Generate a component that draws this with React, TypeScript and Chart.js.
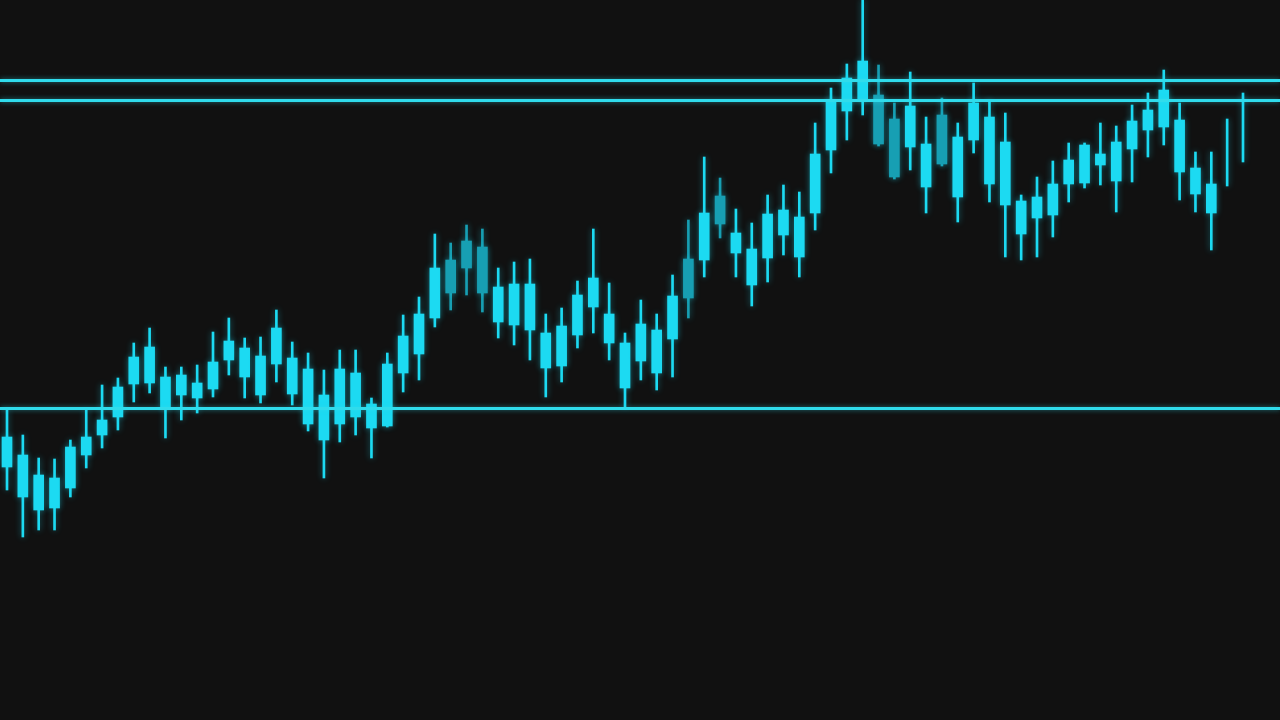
import React, { useEffect, useRef } from "react";
import { Chart, registerables } from "chart.js";

Chart.register(...registerables);

// Candle values (price units)
const highs = [310, 285, 262, 261, 280, 310, 335, 342, 377, 392, 353, 353, 355, 388, 402, 382, 383, 410, 378, 367, 350, 370, 370, 322, 367, 405, 423, 486, 477, 495, 491, 452, 458, 461, 406, 412, 439, 491, 437, 387, 420, 406, 445, 500, 563, 542, 511, 497, 525, 535, 528, 597, 632, 656, 720, 655, 617, 648, 603, 622, 597, 637, 620, 607, 525, 543, 559, 577, 577, 597, 594, 615, 627, 650, 617, 568, 568, 601, 627];
const bodyTops = [283, 265, 245, 242, 273, 283, 300, 333, 363, 373, 343, 345, 337, 358, 379, 372, 364, 392, 362, 351, 325, 351, 347, 316, 356, 384, 406, 452, 460, 479, 473, 433, 436, 436, 387, 394, 425, 442, 406, 377, 396, 390, 424, 461, 507, 524, 487, 471, 506, 510, 503, 566, 619, 642, 659, 625, 601, 614, 576, 605, 583, 617, 603, 578, 519, 523, 536, 560, 575, 566, 578, 599, 610, 630, 600, 552, 536, null, null];
const bodyBottoms = [253, 223, 210, 212, 232, 265, 285, 303, 336, 337, 313, 325, 322, 331, 360, 343, 325, 356, 326, 296, 280, 296, 303, 292, 294, 347, 366, 402, 427, 452, 427, 398, 395, 390, 352, 354, 385, 413, 377, 332, 359, 347, 381, 422, 460, 496, 467, 435, 462, 485, 463, 507, 570, 609, 620, 576, 543, 573, 533, 556, 523, 580, 536, 515, 486, 502, 505, 536, 537, 555, 539, 571, 590, 593, 548, 526, 507, null, null];
const lows = [230, 183, 190, 190, 223, 252, 272, 290, 318, 327, 282, 300, 307, 323, 345, 322, 317, 338, 315, 289, 242, 278, 285, 262, 293, 328, 340, 393, 410, 425, 408, 382, 375, 360, 323, 338, 372, 387, 360, 313, 340, 330, 343, 402, 443, 482, 443, 414, 438, 465, 443, 490, 547, 580, 605, 574, 541, 550, 507, 554, 498, 567, 518, 463, 460, 463, 483, 518, 532, 535, 508, 538, 563, 575, 520, 508, 470, 534, 558];
// candles drawn in the dimmer teal shade (1-based positions)
const dimCandles = [29, 30, 31, 44, 46, 56, 57, 60];
// horizontal support / resistance levels
const levels = [640, 620, 312];
const categories = highs.map((_, i) => String(i + 1));

const BRIGHT = "#1cdaf2";
const DIM = "#179fb3";
const LINE = "#30dcec";
const BG = "#111111";

export default function App() {
  const ref = useRef<HTMLCanvasElement | null>(null);

  useEffect(() => {
    const canvas = ref.current;
    if (!canvas) return;
    const colors = categories.map((_, i) => (dimCandles.includes(i + 1) ? DIM : BRIGHT));

    const glowPlugin = {
      id: "glow",
      beforeDatasetsDraw(chart: any) {
        const ctx = chart.ctx;
        ctx.save();
        ctx.shadowColor = "rgba(28,218,242,0.45)";
        ctx.shadowBlur = 6;
      },
      afterDatasetsDraw(chart: any) {
        const ctx = chart.ctx;
        ctx.restore();
        const y = chart.scales.y;
        ctx.save();
        ctx.strokeStyle = LINE;
        ctx.lineWidth = 3;
        ctx.shadowColor = "rgba(48,220,236,0.5)";
        ctx.shadowBlur = 5;
        levels.forEach((v) => {
          const py = Math.round(y.getPixelForValue(v)) + 0.5;
          ctx.beginPath();
          ctx.moveTo(0, py);
          ctx.lineTo(chart.width, py);
          ctx.stroke();
        });
        ctx.restore();
      },
    };

    const bgPlugin = {
      id: "bg",
      beforeDraw(chart: any) {
        const ctx = chart.ctx;
        ctx.save();
        ctx.fillStyle = BG;
        ctx.fillRect(0, 0, chart.width, chart.height);
        ctx.restore();
      },
    };

    const chart = new Chart(canvas, {
      type: "bar",
      data: {
        labels: categories,
        datasets: [
          {
            label: "wick",
            data: lows.map((l, i) => [l, highs[i]]) as any,
            backgroundColor: colors,
            barThickness: 2,
            grouped: false,
            borderWidth: 0,
            borderSkipped: false,
            clip: false,
            order: 2,
          } as any,
          {
            label: "body",
            data: bodyBottoms.map((b, i) => (b === null ? null : [b, bodyTops[i]])) as any,
            backgroundColor: colors,
            barThickness: 10,
            grouped: false,
            borderWidth: 0,
            borderSkipped: false,
            clip: false,
            order: 1,
          } as any,
        ],
      },
      options: {
        responsive: false,
        animation: false,
        layout: { padding: { left: 7, right: 37, top: 0, bottom: 0 } },
        plugins: { legend: { display: false }, tooltip: { enabled: false } },
        scales: {
          x: { display: false, offset: false, grid: { display: false } },
          y: { display: false, min: 0, max: 720, grid: { display: false } },
        },
      },
      plugins: [bgPlugin, glowPlugin],
    });
    return () => chart.destroy();
  }, []);

  return (
    <div style={{ position: "fixed", left: 0, top: 0, width: 1280, height: 720, background: BG }}>
      <canvas ref={ref} width={1280} height={720} style={{ display: "block" }} />
    </div>
  );
}
